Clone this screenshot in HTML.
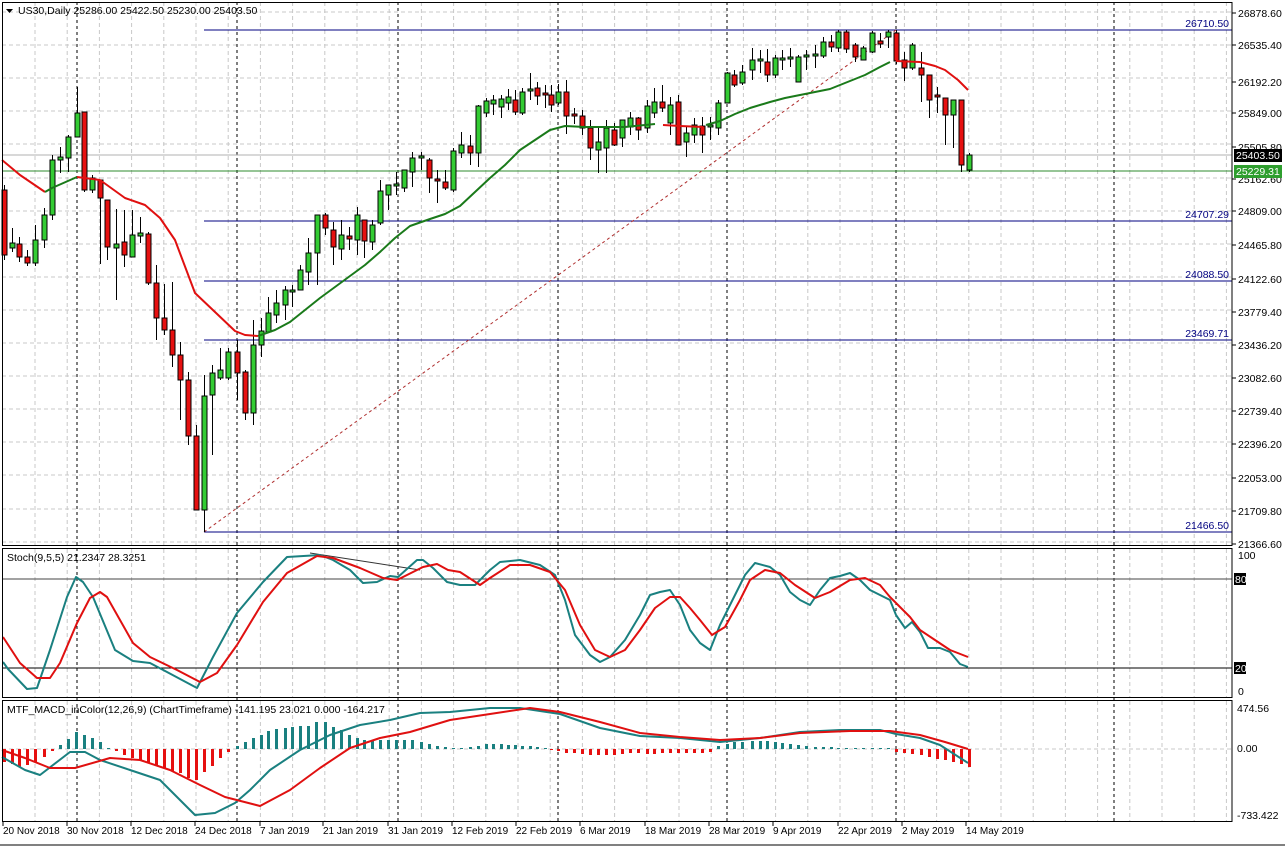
<!DOCTYPE html>
<html><head><meta charset="utf-8"><style>
html,body{margin:0;padding:0;background:#fff;width:1285px;height:847px;overflow:hidden}
svg{display:block}
text{font-family:"Liberation Sans",sans-serif;font-size:10.5px;fill:#000}
</style></head><body>
<svg id="s" width="1285" height="847" xmlns="http://www.w3.org/2000/svg"></svg>
<script>
const S=document.getElementById('s');let h='';
function L(x1,y1,x2,y2,c,w,d){h+=`<line x1="${x1}" y1="${y1}" x2="${x2}" y2="${y2}" stroke="${c}" stroke-width="${w||1}" ${d?`stroke-dasharray="${d}"`:''}/>`;}
function P(pts,c,w,d){h+=`<polyline fill="none" stroke="${c}" stroke-width="${w}" stroke-linejoin="round" ${d?`stroke-dasharray="${d}"`:''} points="${pts.map(p=>p.join(',')).join(' ')}"/>`;}
function T(x,y,t,a,c,fs){h+=`<text x="${x}" y="${y}" ${a?`text-anchor="${a}"`:''} style="${c?'fill:'+c+';':''}${fs?'font-size:'+fs+'px':''}">${t}</text>`;}
const R=1232;
const hy=[12,45,78,111,144,178,211,244,277,310,343,376,409,442,475,509,542];
hy.forEach(y=>L(2,y,R,y,'#c8c8c8',1,'4,3'));
for(let x=35;x<R;x+=32.2)[[2,546],[549,698],[701,821]].forEach(r=>L(x,r[0],x,r[1],'#c8c8c8',1,'4,3'));
L(2,749,R,749,'#c8c8c8',1,'4,3');
[77,237,398,558,727,896,1114].forEach(x=>L(x,2,x,821,'#000',1,'3,3'));
const FB='#000080';
L(204,30,R,30,FB,1);L(204,221,R,221,FB,1);L(204,281,R,281,FB,1);L(204,340,R,340,FB,1);L(204,532,R,532,FB,1);
T(1229,27,'26710.50','end',FB);T(1229,218,'24707.29','end',FB);T(1229,278,'24088.50','end',FB);T(1229,337,'23469.71','end',FB);T(1229,529,'21466.50','end',FB);
L(2,155,R,155,'#b0b0b0',1);L(2,171,R,171,'#2e8b2e',1);
L(204,532,896,30,'#b03030',1,'3,3');
const C=[[4,190,255,'r',185,260],[12,243,248,'g',228,252],[19,244,257,'r',237,262],[27,257,263,'r',250,266],[35,240,263,'g',225,266],[44,215,240,'g',208,248],[52,160,215,'g',155,220],[60,157,160,'g',147,173],[68,137,158,'g',135,172],[77,113,137,'g',87,137],[84,112,190,'r',112,192],[92,178,190,'g',175,193],[100,180,198,'r',180,264],[107,200,247,'r',200,260],[116,244,248,'g',209,300],[124,242,255,'r',210,267],[132,235,257,'g',210,257],[140,233,236,'g',217,243],[148,234,283,'r',232,285],[156,283,318,'r',265,340],[164,318,330,'r',284,335],[172,330,355,'r',282,367],[180,355,380,'r',342,420],[188,380,436,'r',372,445],[196,436,510,'r',425,510],[204,396,510,'g',375,532],[212,373,395,'g',365,455],[220,370,378,'g',348,380],[228,352,378,'g',348,380],[237,352,373,'r',340,400],[245,372,413,'r',370,420],[253,345,413,'g',320,425],[261,331,345,'g',318,357],[268,313,332,'g',297,333],[276,303,315,'g',290,323],[285,290,305,'g',286,320],[292,290,292,'g',285,307],[300,270,290,'g',265,290],[308,253,272,'g',238,285],[317,215,253,'g',215,285],[325,215,228,'r',213,235],[333,230,247,'r',222,265],[341,235,249,'g',220,260],[349,236,239,'r',227,250],[357,215,240,'g',207,255],[364,220,241,'r',222,258],[372,225,242,'g',220,250],[380,191,223,'g',180,225],[388,185,195,'g',185,210],[396,184,186,'g',172,195],[404,170,188,'g',170,192],[412,158,172,'g',152,187],[421,156,158,'g',152,170],[429,160,178,'r',158,193],[437,179,181,'r',170,203],[445,182,188,'r',170,190],[453,151,190,'g',148,192],[461,145,153,'g',132,158],[470,146,153,'r',135,165],[478,106,153,'g',105,167],[486,101,113,'g',98,117],[493,100,104,'g',95,115],[501,99,107,'g',95,118],[508,97,103,'g',89,110],[515,100,112,'r',90,115],[522,92,113,'g',88,115],[530,89,91,'g',73,100],[537,88,96,'r',82,105],[545,93,95,'r',85,108],[551,95,105,'r',85,112],[558,92,103,'g',84,105],[566,92,116,'r',80,134],[574,114,116,'r',108,124],[582,116,128,'r',110,135],[590,128,148,'r',120,160],[598,142,150,'g',128,173],[606,128,148,'g',120,173],[614,130,145,'r',123,146],[622,120,138,'g',120,147],[630,118,127,'g',112,135],[638,118,130,'r',117,140],[647,106,128,'g',100,133],[654,102,113,'g',88,118],[662,102,108,'r',85,112],[670,105,123,'g',97,135],[678,102,145,'r',95,145],[686,133,142,'g',127,157],[694,125,135,'g',118,143],[702,126,135,'r',117,153],[710,125,127,'g',117,140],[718,103,128,'g',100,135],[727,73,103,'g',72,103],[734,75,85,'r',70,87],[742,72,83,'g',65,85],[752,60,70,'g',48,80],[760,59,61,'g',50,73],[767,62,75,'r',49,82],[775,58,75,'g',55,78],[782,58,60,'g',50,70],[790,57,59,'g',48,67],[798,57,82,'g',55,82],[806,55,57,'g',50,70],[815,54,56,'g',45,68],[823,42,56,'g',37,58],[831,42,47,'r',35,52],[838,32,48,'g',30,52],[846,32,49,'r',30,53],[855,45,57,'r',43,62],[863,48,60,'g',46,60],[872,33,52,'g',31,53],[880,41,44,'r',33,48],[888,32,37,'g',30,48],[896,33,61,'r',30,64],[904,60,68,'r',52,81],[912,45,68,'g',43,70],[921,68,75,'r',52,102],[929,75,100,'r',75,118],[937,95,97,'r',87,113],[945,98,115,'r',98,145],[953,100,115,'g',100,148],[961,100,165,'r',100,172],[969,155,170,'g',153,172]];
C.forEach(c=>{L(c[0]+0.5,c[4],c[0]+0.5,c[5],'#000',1);h+=`<rect x="${c[0]-2}" y="${c[1]}" width="5" height="${Math.max(1,c[2]-c[1])}" fill="${c[3]=='g'?'#33cc33':'#e61010'}" stroke="#000" stroke-width="1"/>`;});
P([[2,160],[20,175],[45,192]],'#e01010',2);P([[45,192],[52,188],[77,177]],'#1a7a1a',2);
P([[77,177],[100,180],[125,198],[145,205],[160,218],[175,240],[195,293],[215,312],[235,331],[245,335],[258,336]],'#e01010',2);
P([[258,336],[275,330],[290,322],[305,310],[320,298],[335,287],[350,276],[365,265],[380,252],[395,238],[410,226],[430,219],[445,214],[460,206],[475,192],[490,178],[505,165],[520,150],[535,140],[550,130],[565,126],[585,127],[625,127],[655,124]],'#1a7a1a',2);
P([[663,125],[680,126],[703,127]],'#e01010',2);
P([[706,125],[720,121],[735,114],[750,108],[770,102],[785,98],[800,95],[815,92],[830,89],[845,83],[865,75],[880,67],[890,62]],'#1a7a1a',2);
P([[896,61],[920,62],[935,66],[945,70],[958,80],[968,90]],'#e01010',2);
L(2,579,R,579,'#444',1);L(2,668,R,668,'#000',1);L(310,553,420,570,'#333',1);
P([[3,662],[8,669],[27,689],[37,688],[50,650],[67,597],[76,577],[83,582],[93,597],[115,650],[133,661],[150,663],[167,672],[197,688],[213,657],[237,613],[263,582],[287,557],[320,555],[333,560],[350,570],[363,583],[377,582],[390,576],[398,577],[417,560],[423,560],[433,568],[447,582],[460,585],[475,585],[490,570],[500,562],[520,560],[540,565],[555,575],[565,600],[575,635],[590,655],[600,662],[610,657],[625,640],[640,615],[650,595],[660,592],[670,590],[680,605],[690,630],[700,643],[710,650],[720,625],[730,605],[745,575],[755,563],[770,567],[780,575],[790,592],[800,600],[810,605],[820,590],[830,578],[840,576],[850,573],[860,580],[870,590],[880,595],[890,600],[896,615],[905,628],[912,622],[920,632],[928,648],[940,648],[950,652],[960,664],[968,667]],'#1a8080',2);
P([[3,637],[20,663],[37,678],[50,678],[60,663],[77,623],[90,598],[100,592],[107,597],[133,643],[150,657],[177,670],[200,682],[217,673],[237,645],[263,602],[287,573],[317,556],[333,558],[360,568],[383,578],[397,580],[423,567],[437,564],[448,570],[460,572],[480,585],[490,578],[510,565],[530,565],[550,572],[565,590],[580,625],[595,650],[610,657],[625,650],[640,630],[655,608],[670,597],[680,597],[690,608],[700,620],[712,635],[725,627],[740,600],[750,580],[765,570],[780,573],[795,585],[815,598],[830,592],[850,580],[865,578],[880,585],[890,597],[900,607],[910,617],[920,630],[935,640],[950,650],[968,657]],'#e01010',2);
T(7,561,'Stoch(9,5,5) 21.2347 28.3251');
const H={4:762,12:764,19:767,27:765,35:762,44:757,52:751,60:745,68:739,76:732,84:735,92:738,100:742,108:748,116:751,124:755,132:758,140:760,148:763,156:766,164:768,172:771,180:773,188:778,196:780,204:772,212:766,220:758,228:752,237:746,245:742,253:738,261:735,268:731,276:729,285:728,292:727,300:726,308:726,316:722,325:722,333:727,341:730,349:735,357:738,364:740,372:740,380:740,388:740,396:740,404:740,412:740,421:742,429:744,437:746,445:747,453:748,461:748,470:747,478:746,486:744,493:744,501:744,508:745,515:745,522:746,530:746,537:747,545:748,551:750,558:751,566:753,574:753,582:754,590:755,598:755,606:755,614:755,622:754,630:753,638:753,647:754,654:754,662:753,670:753,678:753,686:753,694:753,702:753,710:752,718:746,727:744,734:742,742:742,752:741,760:741,767:741,775:742,782:743,790:744,798:745,806:746,815:747,823:747,831:747,838:748,846:748,855:748,863:748,872:748,880:748,888:748,896:752,904:753,912:754,921:755,929:757,937:759,945:760,953:762,961:764,969:767};
for(const k in H){const x=+k,y=H[k];const up=y<749;h+=`<rect x="${x-1}" y="${Math.min(y,749)}" width="3" height="${Math.max(1,Math.abs(y-749))}" fill="${up?'#1a8080':'#e61010'}"/>`;}
P([[2,757],[25,770],[40,775],[70,752],[85,752],[100,760],[130,770],[160,780],[195,815],[215,813],[235,803],[250,790],[270,770],[300,750],[330,735],[360,725],[390,720],[420,713],[450,712],[490,708],[520,708],[560,714],[600,728],[640,736],[680,738],[720,742],[760,738],[800,732],[840,730],[880,730],[896,734],[920,738],[940,745],[968,763]],'#1a8080',2);
P([[2,750],[25,758],[50,768],[75,768],[110,758],[140,760],[170,770],[200,785],[225,797],[260,806],[290,790],[320,768],[350,748],[380,738],[410,732],[450,720],[490,714],[530,708],[560,712],[600,722],[640,733],[680,737],[720,740],[760,738],[800,733],[850,731],[890,731],[920,735],[945,742],[968,749]],'#e01010',2);
T(7,713,'MTF_MACD_inColor(12,26,9) (ChartTimeframe) -141.195 23.021 0.000 -164.217');
h+=`<polygon points="6,9 13,9 9.5,13" fill="#000"/>`;T(18,14,'US30,Daily  25286.00 25422.50 25230.00 25403.50');
h+=`<rect x="2.5" y="2.5" width="${R-2.5}" height="543" fill="none" stroke="#000"/>`;
h+=`<rect x="2.5" y="548.5" width="${R-2.5}" height="149" fill="none" stroke="#000"/>`;
h+=`<rect x="2.5" y="700.5" width="${R-2.5}" height="121" fill="none" stroke="#000"/>`;
L(0,845,1285,845,'#000',1);
const labs=['26878.60','26535.40','26192.20','25849.00','25505.80','25162.60','24809.00','24465.80','24122.60','23779.40','23436.20','23082.60','22739.40','22396.20','22053.00','21709.80','21366.60'];
const ly=[13,45,82,113,147,179,211,245,279,312,345,378,411,444,478,511,544];
labs.forEach((t,i)=>{L(R,ly[i],R+4,ly[i],'#000');T(1238,ly[i]+4,t);});
h+=`<rect x="1234" y="149" width="48" height="13" fill="#000"/>`;T(1236,159,'25403.50','start','#fff');
h+=`<rect x="1234" y="165" width="48" height="13" fill="#2e9e2e"/>`;T(1236,175,'25229.31','start','#fff');
T(1238,559,'100');h+=`<rect x="1234" y="573" width="12" height="12" fill="#000"/>`;T(1235,583,'80','start','#fff');
h+=`<rect x="1234" y="662" width="12" height="12" fill="#000"/>`;T(1235,672,'20','start','#fff');T(1238,695,'0');
T(1237,712,'474.56');T(1237,752,'0.00');T(1237,819,'-733.422');
const bd=[[3,'20 Nov 2018'],[67,'30 Nov 2018'],[131,'12 Dec 2018'],[195,'24 Dec 2018'],[260,'7 Jan 2019'],[323,'21 Jan 2019'],[388,'31 Jan 2019'],[452,'12 Feb 2019'],[516,'22 Feb 2019'],[580,'6 Mar 2019'],[645,'18 Mar 2019'],[709,'28 Mar 2019'],[773,'9 Apr 2019'],[838,'22 Apr 2019'],[902,'2 May 2019'],[966,'14 May 2019']];
bd.forEach(b=>{L(b[0],822,b[0],826,'#000');T(b[0],834,b[1],'','',10);});
S.innerHTML=h;
</script>
</body></html>
